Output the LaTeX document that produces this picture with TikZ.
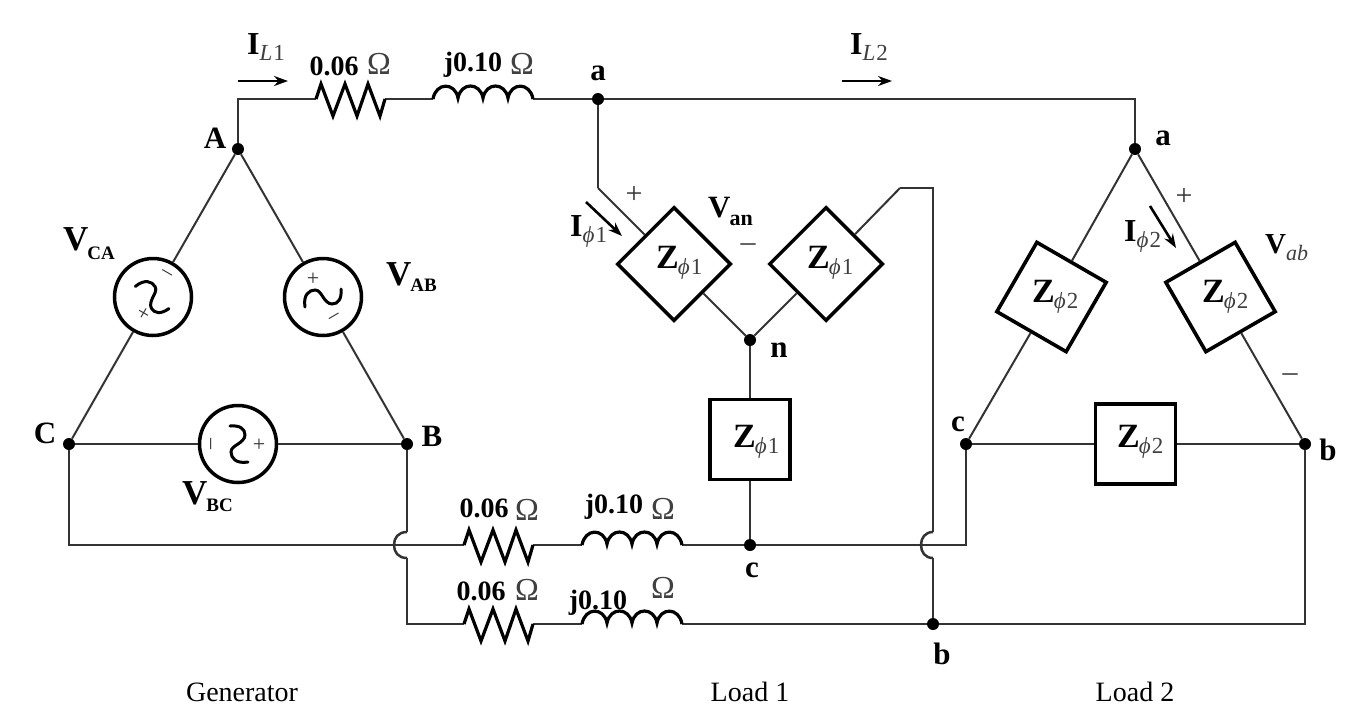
\documentclass[tikz,border=0pt]{standalone}
\usepackage{fontspec}
\setmainfont{Liberation Serif}
\usetikzlibrary{shapes.geometric,arrows.meta}
\definecolor{wirec}{HTML}{333333}
\definecolor{subc}{HTML}{404040}
\newcommand{\fs}[1]{\fontsize{#1}{#1}\selectfont}
\newcommand{\VS}[3]{{\fs{35}\bfseries V}\kern-1pt\raisebox{-#2pt}{\fs{#3}\bfseries #1}}
\newcommand{\ZS}[1]{{\fs{34}\bfseries Z}\kern-1pt\raisebox{-6.5pt}{\fs{23}\color{subc}\textit{ϕ}\kern1pt#1}}
\newcommand{\IS}[2]{{\fs{32}\bfseries I}\raisebox{-6.5pt}{\fs{23}\color{subc}\textit{#1}\kern1pt#2}}
\newcommand{\Om}{{\fs{32}\color{subc}Ω}}
\newcommand{\resistor}[1]{\draw[compo,shift={(#1)}] (0,0) -- (5,-15) -- (17,17) -- (29,-15) -- (41,17) -- (52,-15) -- (64,17) -- (69,0);}
\newcommand{\inductor}[1]{\draw[compo,shift={(#1)}] (0,0) .. controls (3,-17) and (22,-17) .. (25,-1) .. controls (28,-17) and (47,-17) .. (50,-1) .. controls (53,-17) and (72,-17) .. (75,-1) .. controls (78,-17) and (97,-17) .. (100,0);}
\newcommand{\wave}[2]{\draw[line width=3pt,line cap=round,shift={(#1)},rotate=#2] (-18,10) .. controls (-20,-2) and (-14,-7) .. (-8,-7) .. controls (-4,-7) and (-2,-3) .. (0,0) .. controls (2,3) and (5,7) .. (9,7) .. controls (15,7) and (19,2) .. (18,-8);}
\tikzset{
  wire/.style={draw=wirec,line width=2.5pt,line join=miter},
  thinwire/.style={draw=wirec,line width=2pt},
  compo/.style={draw=black,line width=3.2pt,line join=miter},
  dot/.style={circle,fill=black,inner sep=0pt,minimum size=12pt},
  source/.style={circle,draw=black,line width=3.5pt,fill=none,inner sep=0pt,minimum size=77pt},
  zdia/.style={diamond,draw=black,line width=3.5pt,inner sep=0pt,minimum width=114pt,minimum height=114pt,aspect=1},
  zbox/.style={rectangle,draw=black,line width=3.6pt,inner sep=0pt,minimum size=80pt},
  bl/.style={inner sep=0pt,font=\fs{31}\bfseries},
  rg/.style={inner sep=0pt,font=\fs{28}},
  sign/.style={inner sep=0pt,font=\fs{30},text=wirec},
  tiny/.style={inner sep=0pt,font=\fs{22},text=wirec},
  lbl/.style={inner sep=0pt,anchor=base west},
  val/.style={inner sep=0pt,font=\fs{28}\bfseries},
  cur/.style={draw=black,line width=2.6pt,-{Stealth[length=14pt,width=10pt]}}
}
\begin{document}
\begin{tikzpicture}[x=1pt,y=-1pt]
\useasboundingbox[fill=white] (0,0) rectangle (1362,716);
% junctions
\node[dot] (A) at (238,149) {};
\node[dot] (C) at (69,444) {};
\node[dot] (B) at (407,444) {};
\node[dot] (ta) at (598,99) {};
\node[dot] (n) at (750,340) {};
\node[dot] (jc) at (750,545) {};
\node[dot] (jb) at (933,624) {};
\node[dot] (la) at (1135,149) {};
\node[dot] (lc) at (966,444) {};
\node[dot] (lb) at (1305,444) {};
% sources
\node[source] (vca) at (153,297) {};
\node[source] (vab) at (323,297) {};
\node[source] (vbc) at (238,444) {};
\wave{153,297}{-60}
\wave{323,297}{0}
\wave{238,444}{90}
% impedances
\node[zdia] (z1) at (674,264) {};
\node[zdia] (z2) at (826,264) {};
\node[zbox] (z3) at (750,439.5) {};
\node[zbox,rotate=-30] (y1) at (1051.5,297) {};
\node[zbox,rotate=30] (y2) at (1220.5,297) {};
\node[zbox] (y3) at (1135.5,444) {};
% routing coordinates
\coordinate (tl) at (238,99);
\coordinate (r1a) at (316,99);
\coordinate (r1b) at (385,99);
\coordinate (i1a) at (433,99);
\coordinate (i1b) at (533,99);
\coordinate (tr) at (1135,99);
\coordinate (ab) at (598,188);
\coordinate (bb) at (900,188);
\coordinate (bc) at (933,188);
\coordinate (cl) at (69,545);
\coordinate (r2a) at (464,545);
\coordinate (r2b) at (533,545);
\coordinate (i2a) at (582,545);
\coordinate (i2b) at (682,545);
\coordinate (cr) at (966,545);
\coordinate (h1a) at (407,532);
\coordinate (h1b) at (407,558);
\coordinate (h2a) at (933,532);
\coordinate (h2b) at (933,558);
\coordinate (bl1) at (407,624);
\coordinate (r3a) at (464,624);
\coordinate (r3b) at (533,624);
\coordinate (i3a) at (582,624);
\coordinate (i3b) at (682,624);
\coordinate (br) at (1305,624);
% wires
\draw[wire] (A) -- (tl) -- (r1a);
\draw[wire] (r1b) -- (i1a);
\draw[wire] (i1b) -- (ta) -- (tr) -- (la);
\draw[thinwire] (A) -- (vca) -- (C);
\draw[thinwire] (A) -- (vab) -- (B);
\draw[wire] (C) -- (vbc) -- (B);
\draw[wire] (ta) -- (ab);
\draw[thinwire] (ab) -- (z1);
\draw[thinwire] (z1) -- (n);
\draw[thinwire] (z2) -- (n);
\draw[thinwire] (z2) -- (bb);
\draw[wire] (bb) -- (bc) -- (h2a);
\draw[wire] (h2a) .. controls (925,532) and (921,538) .. (921,545) .. controls (921,552) and (925,558) .. (h2b);
\draw[wire] (h2b) -- (jb);
\draw[wire] (n) -- (z3) -- (jc);
\draw[wire] (C) -- (cl) -- (r2a);
\draw[wire] (r2b) -- (i2a);
\draw[wire] (i2b) -- (jc) -- (cr) -- (lc);
\draw[wire] (B) -- (h1a);
\draw[wire] (h1a) .. controls (398,532) and (394,538) .. (394,545) .. controls (394,552) and (398,558) .. (h1b);
\draw[wire] (h1b) -- (bl1) -- (r3a);
\draw[wire] (r3b) -- (i3a);
\draw[wire] (i3b) -- (jb) -- (br) -- (lb);
\draw[thinwire] (la) -- (y1) -- (lc);
\draw[thinwire] (la) -- (y2) -- (lb);
\draw[wire] (lc) -- (y3) -- (lb);
% series elements
\resistor{r1a}
\inductor{i1a}
\resistor{r2a}
\inductor{i2a}
\resistor{r3a}
\inductor{i3a}
% current arrows
\coordinate (a1s) at (238,81); \coordinate (a1e) at (288,81);
\coordinate (a2s) at (842,81); \coordinate (a2e) at (892,81);
\coordinate (a3s) at (586,202); \coordinate (a3e) at (622,236);
\coordinate (a4s) at (1150,206); \coordinate (a4e) at (1176,248);
\draw[cur] (a1s) -- (a1e);
\draw[cur] (a2s) -- (a2e);
\draw[cur] (a3s) -- (a3e);
\draw[cur] (a4s) -- (a4e);
% signs in sources
\node[tiny] (s1) at (313,279) {+};
\node[tiny,rotate=30] (s2) at (335,318) {–};
\node[tiny,rotate=-30] (s3) at (143,314) {+};
\node[tiny,rotate=-30] (s4) at (166,275) {–};
\node[tiny,rotate=90] (s5) at (213,444) {–};
\node[tiny] (s6) at (259,445) {+};
% node letters
\node[bl] (tA) at (215,138) {A};
\node[bl] (tB) at (432,436) {B};
\node[bl] (tC) at (45,433) {C};
\node[bl] (ta1) at (598,73) {a};
\node[bl] (ta2) at (1163,138) {a};
\node[bl] (tb1) at (942,654) {b};
\node[bl] (tb2) at (1328,450) {b};
\node[bl] (tc1) at (752,570) {c};
\node[bl] (tc2) at (958,424) {c};
\node[bl] (tn) at (779,350) {n};
% voltages
\node[lbl] (vt1) at (63,250) {\VS{CA}{9}{19}};
\node[lbl] (vt2) at (386,285) {\VS{AB}{6}{19}};
\node[lbl] (vt3) at (182,504) {\VS{BC}{7}{19}};
\node[lbl] (vt4) at (708,217) {{\fs{31}\bfseries V}\kern-1pt\raisebox{-8pt}{\fs{22}\bfseries an}};
\node[lbl] (vt5) at (1265,253) {{\fs{29}\bfseries V}\raisebox{-7pt}{\fs{22}\color{subc}\textit{ab}}};
\node[sign] (p1) at (634,195) {+};
\node[sign] (m1) at (748,248) {–};
\node[sign] (p2) at (1184,197) {+};
\node[sign] (m2) at (1290,378) {–};
% currents
\node[lbl] (il1) at (247,54) {\IS{L}{1}};
\node[lbl] (il2) at (850,54) {\IS{L}{2}};
\node[lbl] (ip1) at (570,236) {\IS{ϕ}{1}};
\node[lbl] (ip2) at (1124,241) {\IS{ϕ}{2}};
% impedance labels
\node[lbl] (zt1) at (656,268) {\ZS{1}};
\node[lbl] (zt2) at (807,268) {\ZS{1}};
\node[lbl] (zt3) at (733,447) {\ZS{1}};
\node[lbl] (zt4) at (1032,302) {\ZS{2}};
\node[lbl] (zt5) at (1202,302) {\ZS{2}};
\node[lbl] (zt6) at (1117,447) {\ZS{2}};
% line values
\node[val] (v1) at (334,66) {0.06};
\node[inner sep=0pt] (o1) at (379,64) {\Om};
\node[val] (v2) at (473,65) {j0.10};
\node[inner sep=0pt] (o2) at (522,64) {\Om};
\node[val] (v3) at (484,508) {0.06};
\node[inner sep=0pt] (o3) at (527,510) {\Om};
\node[val] (v4) at (614,507) {j0.10};
\node[inner sep=0pt] (o4) at (663,509) {\Om};
\node[val] (v5) at (481,591) {0.06};
\node[inner sep=0pt] (o5) at (527,590) {\Om};
\node[val] (v6) at (598,603) {j0.10};
\node[inner sep=0pt] (o6) at (663,588) {\Om};
% captions
\node[rg] (g) at (242,692) {Generator};
\node[rg] (l1) at (750,692) {Load 1};
\node[rg] (l2) at (1135,692) {Load 2};
\end{tikzpicture}
\end{document}
